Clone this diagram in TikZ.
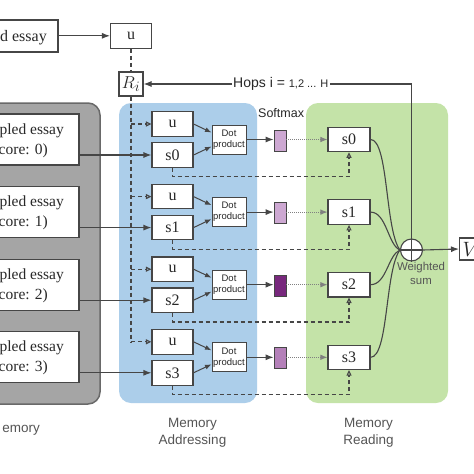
\documentclass[tikz,border=0pt]{standalone}
\usepackage{fontspec}
\setmainfont{Liberation Serif}
\setsansfont{Liberation Sans}
\usetikzlibrary{arrows.meta,calc}
\definecolor{ln}{RGB}{70,70,70}
\definecolor{txt}{RGB}{40,40,40}
\definecolor{lbltxt}{RGB}{85,85,85}
\definecolor{bluep}{RGB}{172,206,234}
\definecolor{greenp}{RGB}{196,227,168}
\definecolor{memf}{RGB}{165,165,165}
\definecolor{memb}{RGB}{105,105,105}
\definecolor{smlight}{RGB}{205,168,210}
\definecolor{smmid}{RGB}{180,128,185}
\definecolor{smdark}{RGB}{120,40,125}
\begin{document}
\begin{tikzpicture}[x=1pt,y=-1pt,
 every node/.style={inner sep=0pt},
 wbox/.style={draw=ln, line width=1.1pt, fill=white, font=\fontsize{16}{16}\selectfont, text=txt},
 ubox/.style={wbox, minimum width=41pt, minimum height=24.5pt},
 dpbox/.style={draw=ln, line width=1pt, fill=white, minimum width=34pt, minimum height=29pt, align=center, font=\sffamily\fontsize{9.5}{11}\selectfont, text=txt},
 smbox/.style={draw=ln, line width=0.7pt, minimum width=12pt, minimum height=21pt},
 arr/.style={draw=ln, line width=1.1pt, -{Latex[length=8pt,width=6pt]}},
 arrs/.style={draw=ln, line width=1pt, -{Latex[length=6.5pt,width=5pt]}},
 dsh/.style={draw=ln, line width=1.1pt, dash pattern=on 4pt off 3pt},
 oarr/.style={dsh, -{Triangle[open,length=5.5pt,width=5pt]}},
 dotarr/.style={draw=gray, line width=0.9pt, dash pattern=on 1pt off 1pt, -{Latex[length=7pt,width=5.5pt]}},
 cur/.style={draw=ln, line width=1.1pt},
 lbl/.style={font=\sffamily\fontsize{13.5}{17}\selectfont, text=lbltxt, align=center},
 esstxt/.style={anchor=base east, font=\fontsize{15.5}{15.5}\selectfont, text=txt}
]
\useasboundingbox (0,0) rectangle (474,474);
\clip (0,0) rectangle (474,474);
\fill[white] (0,0) rectangle (474,474);
% panels
\draw[draw=memb, fill=memf, line width=1.5pt, rounded corners=12pt] (-40,103) rectangle (100,404);
\fill[bluep, rounded corners=12pt] (119,103) rectangle (257,403);
\fill[greenp, rounded corners=12pt] (306,103) rectangle (448,403);
% top
\node[wbox, minimum width=100pt, minimum height=32pt] (inp) at (8,36) {};
\node[esstxt, font=\fontsize{16}{16}\selectfont] (inptxt) at (47,41) {d essay};
\node[ubox, minimum height=25pt] (uin) at (131,35.8) {u};
\node[draw=ln, line width=1.1pt, fill=white, minimum size=24pt, font=\fontsize{19}{19}\selectfont, text=txt] (Ri) at (131,84) {$R_i$};
\draw[arr] (inp.east |- uin.west) -- (uin.west);
\draw[dsh] (uin.south) -- (Ri.north);
% labels
\node[font=\sffamily\fontsize{12.5}{12.5}\selectfont, text=txt, anchor=base west] (smlbl) at (258,117) {Softmax};
\node[font=\sffamily\fontsize{14}{14}\selectfont, text=txt, anchor=base west, inner xsep=1pt] (hops) at (232,87) {Hops i = {\fontsize{11}{11}\selectfont 1,2 ... H}};
\node[lbl] (lmem) at (192.5,433) {Memory\\Addressing};
\node[lbl] (lread) at (368.5,433) {Memory\\Reading};
\node[lbl, anchor=base east] (lmemory) at (40,432) {emory};
% weighted sum
\node[circle, draw=ln, line width=1.1pt, fill=white, minimum size=22pt] (ws) at (411.5,250) {};
\node[font=\sffamily\fontsize{11.4}{14}\selectfont, text=lbltxt, align=center, anchor=north] (wslbl) at (421,262.5) {Weighted\\sum};
\node[draw=ln, line width=1.1pt, fill=white, anchor=west, minimum height=22pt, text width=22pt, inner xsep=3pt, align=left, font=\fontsize{20}{20}\selectfont, text=txt] (V) at (459,249) {$V$};
\foreach \i/\col in {0/smlight,1/smlight,2/smdark,3/smmid} {
  \pgfmathsetmacro\cy{139.5+72.6*\i}
  \node[wbox, minimum width=124pt, minimum height=51pt] (ess\i) at (17,\cy) {};
  \node[esstxt] (esa\i) at (64,\cy-5.5) {pled essay};
  \node[esstxt] (esb\i) at (48,\cy+14.5) {core: \i)};
  \node[ubox] (u\i) at (172.5,\cy-15.5) {u};
  \node[ubox] (s\i) at (172.5,\cy+15.5) {s\i};
  \node[dpbox] (dp\i) at (229,\cy) {Dot\\product};
  \node[smbox, fill=\col] (sm\i) at (280,\cy+1) {};
  \node[ubox, minimum width=42pt] (r\i) at (349,\cy) {s\i};
  \draw[arr] (ess\i.east |- s\i.west) -- (s\i.west);
  \draw[arrs] (u\i.east) -- ($(dp\i.west)+(0,-7)$);
  \draw[arrs] (s\i.east) -- ($(dp\i.west)+(0,7)$);
  \draw[arr] (dp\i.east) -- (sm\i.west |- dp\i.east);
  \draw[dotarr] (sm\i.east |- r\i.west) -- (r\i.west);
  \draw[oarr] (s\i.south) -- ++(0,9) -| (r\i.south);
}
% R_i dashed distribution
\draw[dsh] (Ri.south) -- (Ri.south |- u3.west);
\foreach \i in {0,1,2,3} {
  \draw[oarr] (Ri.south |- u\i.west) -- (u\i.west);
}
% curves into weighted sum
\draw[cur] (r0.east) .. controls +(18,0) and +(-15,-20) .. (ws.west);
\draw[cur] (r1.east) .. controls +(16,0) and +(-12,-5) .. (ws.west);
\draw[cur] (r2.east) .. controls +(16,0) and +(-12,5) .. (ws.west);
\draw[cur] (r3.east) .. controls +(18,0) and +(-15,20) .. (ws.west);
% plus sign
\draw[cur] (ws.north) -- (ws.south);
\draw[cur] (ws.west) -- (ws.east);
\draw[arr] (ws.east) -- (V.west);
% hops loop
\draw[cur] (ws.north) -- (ws.north |- Ri.east) -- (hops.east |- Ri.east);
\draw[arr] (hops.west |- Ri.east) -- (Ri.east);
\end{tikzpicture}
\end{document}
